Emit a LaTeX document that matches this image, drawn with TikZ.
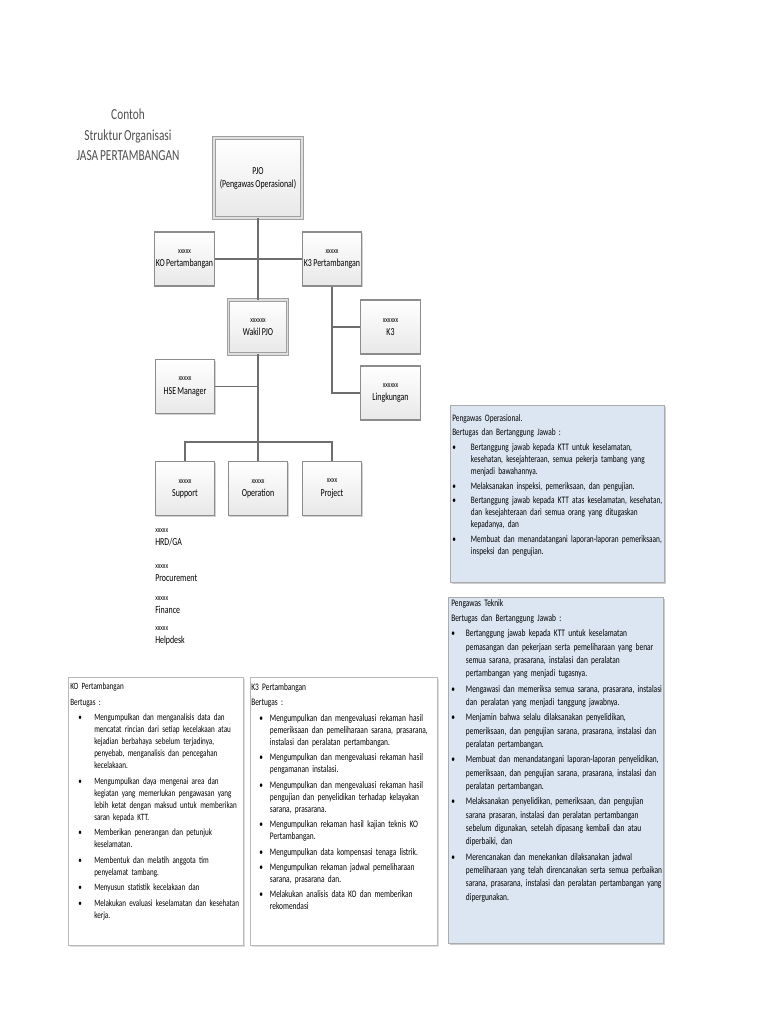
\documentclass[tikz,border=0pt]{standalone}
\usepackage{fontspec}
\setmainfont{Carlito}[FakeStretch=0.74,WordSpace=0.75]
\usetikzlibrary{shadows}
\definecolor{warnagaris}{HTML}{6E6E6E}
\definecolor{tepi}{HTML}{8C8C8C}
\definecolor{birumuda}{HTML}{DCE6F2}
\definecolor{warnajudul}{HTML}{505050}
\newlength{\bulpos}
\newlength{\bulind}
\newcommand{\butir}[1]{\par\noindent\hangindent=\bulind\hangafter=1\makebox[\bulind][l]{\hspace*{\bulpos}\textbullet}#1\par}
\newcommand{\kecil}{\fontsize{6}{7}\selectfont}
% ukuran huruf, jarak baris, jarak paragraf
\newcommand{\hurufisi}[3]{\fontsize{#1}{#2}\selectfont\hyphenpenalty=10000\setlength{\parskip}{#3}}

\begin{document}
\begin{tikzpicture}[x=0.75pt,y=-0.75pt]
\tikzstyle{kotak}=[draw=tepi, line width=0.8pt, top color=white, bottom color=gray!18,
  minimum width=44.5pt, minimum height=40.5pt, inner sep=1pt, align=center,
  font=\fontsize{8}{9.8}\selectfont,
  drop shadow={shadow xshift=0.8pt, shadow yshift=-0.8pt, opacity=0.35}]
\tikzstyle{kotakutama}=[kotak, draw=gray!75, line width=0.6pt, double=gray!25, double distance=1.2pt]
\tikzstyle{garis}=[draw=warnagaris, line width=0.9pt]
\tikzstyle{kotakbiru}=[draw=gray!65, line width=0.6pt, fill=birumuda, inner sep=0pt, anchor=north west,
  drop shadow={shadow xshift=1.2pt, shadow yshift=-1.5pt, opacity=0.4}]
\tikzstyle{kotakputih}=[draw=gray!55, line width=0.6pt, fill=white, inner sep=0pt, anchor=north west,
  drop shadow={shadow xshift=1pt, shadow yshift=-1.2pt, opacity=0.25}]
\tikzstyle{isi}=[anchor=north west, inner sep=0pt, align=left, font=\fontsize{7.5}{9.4}\selectfont]
\tikzstyle{daftar}=[anchor=west, inner sep=0pt, align=left, font=\fontsize{8}{9.75}\selectfont]

\useasboundingbox[fill=white] (0,0) rectangle (768,1024);

% judul
\node[align=center, text=warnajudul, font=\fontsize{11.5}{15.5}\selectfont] (judul) at (128,135)
  {Contoh\\Struktur Organisasi\\JASA PERTAMBANGAN};

% struktur
\node[kotakutama, minimum width=66pt, minimum height=60pt] (pjo) at (258,178) {PJO\\(Pengawas Operasional)};
\node[kotak] (ko) at (184.5,259) {{\kecil xxxxx}\\KO Pertambangan};
\node[kotak] (k3p) at (332,259) {{\kecil xxxxx}\\K3 Pertambangan};
\node[kotakutama] (wakil) at (258,327) {{\kecil xxxxxx}\\Wakil PJO};
\node[kotak] (k3) at (390.5,327) {{\kecil xxxxxx}\\K3};
\node[kotak] (ling) at (390.5,393) {{\kecil xxxxxx}\\Lingkungan};
\node[kotak] (hse) at (185,386.5) {{\kecil xxxxx}\\HSE Manager};
\node[kotak] (support) at (185,488.5) {{\kecil xxxxx}\\Support};
\node[kotak] (operation) at (258,488.5) {{\kecil xxxxx}\\Operation};
\node[kotak] (project) at (332,488.5) {{\kecil xxxx}\\Project};
\coordinate (cabang) at (258,442);

\draw[garis] (pjo.south) -- (wakil.north);
\draw[garis] (ko.east) -- (k3p.west);
\draw[garis] (k3p.south) |- (k3.west);
\draw[garis] (k3p.south) |- (ling.west);
\draw[garis] (hse.east) -- (hse.east -| wakil.south);
\draw[garis] (wakil.south) -- (cabang);
\draw[garis] (support.north) |- (cabang) -| (project.north);
\draw[garis] (cabang) -- (operation.north);

% bagian support
\node[daftar] (hrd) at (155,537.5) {{\kecil xxxxx}\\HRD/GA};
\node[daftar] (procurement) at (155,573) {{\kecil xxxxx}\\Procurement};
\node[daftar] (finance) at (155,605) {{\kecil xxxxx}\\Finance};
\node[daftar] (helpdesk) at (155,635.5) {{\kecil xxxxx}\\Helpdesk};

% kotak tugas
\node[kotakbiru, minimum width=160.5pt, minimum height=132.75pt] (kotakpo) at (450,405) {};
\node[kotakbiru, minimum width=161.25pt, minimum height=259.5pt] (kotakpt) at (448,597) {};
\node[kotakputih, minimum width=131.25pt, minimum height=201pt] (kotakko) at (68,677) {};
\node[kotakputih, minimum width=140.25pt, minimum height=201pt] (kotakk3) at (250,677) {};

\node[isi, text width=185pt, execute at begin node={\hurufisi{7.4}{9}{2pt}\setlength{\bulpos}{0pt}\setlength{\bulind}{14pt}}]
  (tugaspo) at (452,414) {Pengawas Operasional.\par
  Bertugas dan Bertanggung Jawab :
  \butir{Bertanggung jawab kepada KTT untuk keselamatan,\newline kesehatan, kesejahteraan, semua pekerja tambang yang\newline menjadi bawahannya.}
  \butir{Melaksanakan inspeksi, pemeriksaan, dan pengujian.}
  \butir{Bertanggung jawab kepada KTT atas keselamatan, kesehatan,\newline dan kesejahteraan dari semua orang yang ditugaskan\newline kepadanya, dan}
  \butir{Membuat dan menandatangani laporan-laporan pemeriksaan,\newline inspeksi dan pengujian.}};

\node[isi, text width=185pt, execute at begin node={\hurufisi{7.5}{10}{1.5pt}\setlength{\bulpos}{0pt}\setlength{\bulind}{11pt}}]
  (tugaspt) at (451,599) {Pengawas Teknik\par
  Bertugas dan Bertanggung Jawab :
  \butir{Bertanggung jawab kepada KTT untuk keselamatan\newline pemasangan dan pekerjaan serta pemeliharaan yang benar\newline semua sarana, prasarana, instalasi dan peralatan\newline pertambangan yang menjadi tugasnya.}
  \butir{Mengawasi dan memeriksa semua sarana, prasarana, instalasi\newline dan peralatan yang menjadi tanggung jawabnya.}
  \butir{Menjamin bahwa selalu dilaksanakan penyelidikan,\newline pemeriksaan, dan pengujian sarana, prasarana, instalasi dan\newline peralatan pertambangan.}
  \butir{Membuat dan menandatangani laporan-laporan penyelidikan,\newline pemeriksaan, dan pengujian sarana, prasarana, instalasi dan\newline peralatan pertambangan.}
  \butir{Melaksanakan penyelidikan, pemeriksaan, dan pengujian\newline sarana prasaran, instalasi dan peralatan pertambangan\newline sebelum digunakan, setelah dipasang kembali dan atau\newline diperbaiki, dan}
  \butir{Merencanakan dan menekankan dilaksanakan jadwal\newline pemeliharaan yang telah direncanakan serta semua perbaikan\newline sarana, prasarana, instalasi dan peralatan pertambangan yang\newline dipergunakan.}};

\node[isi, text width=160pt, execute at begin node={\hurufisi{7.2}{9}{2.6pt}\setlength{\bulpos}{6pt}\setlength{\bulind}{18pt}}]
  (tugasko) at (70,683) {KO Pertambangan\par
  Bertugas :
  \butir{Mengumpulkan dan menganalisis data dan\newline mencatat rincian dari setiap kecelakaan atau\newline kejadian berbahaya sebelum terjadinya,\newline penyebab, menganalisis dan pencegahan\newline kecelakaan.}
  \butir{Mengumpulkan daya mengenai area dan\newline kegiatan yang memerlukan pengawasan yang\newline lebih ketat dengan maksud untuk memberikan\newline saran kepada KTT.}
  \butir{Memberikan penerangan dan petunjuk\newline keselamatan.}
  \butir{Membentuk dan melatih anggota tim\newline penyelamat tambang.}
  \butir{Menyusun statistik kecelakaan dan}
  \butir{Melakukan evaluasi keselamatan dan kesehatan\newline kerja.}};

\node[isi, text width=165pt, execute at begin node={\hurufisi{7.5}{9}{2.6pt}\setlength{\bulpos}{6pt}\setlength{\bulind}{14pt}}]
  (tugask3) at (251,683) {K3 Pertambangan\par
  Bertugas :
  \butir{Mengumpulkan dan mengevaluasi rekaman hasil\newline pemeriksaan dan pemeliharaan sarana, prasarana,\newline instalasi dan peralatan pertambangan.}
  \butir{Mengumpulkan dan mengevaluasi rekaman hasil\newline pengamanan instalasi.}
  \butir{Mengumpulkan dan mengevaluasi rekaman hasil\newline pengujian dan penyelidikan terhadap kelayakan\newline sarana, prasarana.}
  \butir{Mengumpulkan rekaman hasil kajian teknis KO\newline Pertambangan.}
  \butir{Mengumpulkan data kompensasi tenaga listrik.}
  \butir{Mengumpulkan rekaman jadwal pemeliharaan\newline sarana, prasarana dan.}
  \butir{Melakukan analisis data KO dan memberikan\newline rekomendasi}};
\end{tikzpicture}
\end{document}
